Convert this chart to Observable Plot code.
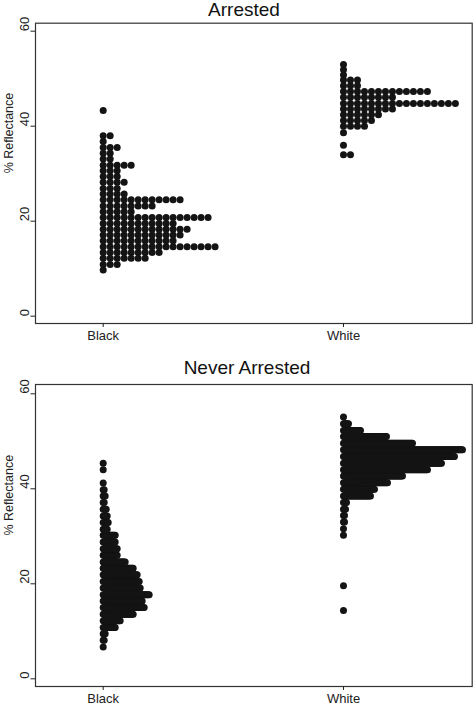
<!DOCTYPE html>
<html>
<head>
<meta charset="utf-8">
<script src="https://cdn.jsdelivr.net/npm/d3@7"></script>
<script src="https://cdn.jsdelivr.net/npm/@observablehq/plot@0.6"></script>
<style>
  html, body { margin: 0; padding: 0; background: #fff; }
  #wrap { position: relative; width: 474px; height: 706px; overflow: hidden; font-family: 'Liberation Sans', Arial, sans-serif; }
  .title { position: absolute; z-index: 2; font-size: 19px; line-height: 19px; color: #111; text-align: center; white-space: nowrap; }
  .panel { position: absolute; left: 0; z-index: 1; }
</style>
</head>
<body>
<div id="wrap">
  <div class="panel" id="p1" style="top:0;"></div>
  <div class="panel" id="p2" style="top:350px;"></div>
  <div class="title" id="t1" style="left:0; width:488px; top:0px;">Arrested</div>
  <div class="title" id="t2" style="left:0; width:494px; top:358px;">Never Arrested</div>
</div>
<script>
// ---- categories and axis ticks ----
const groups = ["Black", "White"];
const yTicks = [0, 20, 40, 60];
const yLabel = "% Reflectance";

// ---- Arrested: row values (% reflectance) and number of dots per row ----
const arrBlackY = [9.7, 10.9, 12.2, 13.4, 14.6, 15.9, 17.1, 18.3, 19.5, 20.8, 22.0, 23.2, 24.5, 25.7, 26.9, 28.2, 29.4, 30.6, 31.8, 33.1, 34.3, 35.5, 36.8, 38.0, 43.3];
const arrBlackN = [1, 3, 7, 9, 17, 11, 12, 13, 11, 16, 5, 8, 12, 4, 3, 4, 3, 3, 5, 2, 2, 3, 1, 2, 1];
const arrWhiteY = [34.0, 36.0, 38.6, 40.0, 41.2, 42.4, 43.6, 44.8, 46.1, 47.3, 48.5, 49.7, 50.8, 51.9, 53.0];
const arrWhiteN = [2, 1, 1, 4, 5, 6, 8, 17, 8, 13, 3, 3, 1, 1, 1];

// ---- Never arrested ----
const nevBlackY = [6.7, 8.1, 9.5, 10.8, 12.2, 13.6, 15.0, 16.4, 17.7, 19.1, 20.5, 21.9, 23.3, 24.6, 26.0, 27.4, 28.8, 30.2, 31.5, 32.9, 34.3, 35.7, 37.1, 38.5, 39.8, 41.2, 44.0, 45.4];
const nevBlackN = [1, 2, 3, 13, 18, 31, 42, 40, 47, 38, 37, 35, 31, 23, 15, 15, 13, 13, 5, 6, 5, 4, 2, 3, 2, 1, 1, 1];
const nevWhiteY = [14.4, 19.6, 30.2, 31.6, 33.0, 34.4, 35.7, 37.1, 38.5, 39.9, 41.3, 42.7, 44.0, 45.4, 46.8, 48.2, 49.6, 51.0, 52.3, 53.7, 55.1];
const nevWhiteN = [1, 1, 1, 1, 2, 2, 3, 4, 28, 32, 45, 60, 85, 99, 112, 120, 70, 44, 18, 6, 1];

// horizontal spacing between stacked dots (x units; a category is 1 unit wide)
const arrStep = 0.0291;
const nevStep = 0.00416;

function expand(cat, ys, ns, step) {
  const out = [];
  ys.forEach((y, i) => {
    for (let j = 0; j < ns[i]; j++) out.push({x: cat + j * step, y});
  });
  return out;
}

function panel(data, yDomain, marginTop, marginBottom, height) {
  return Plot.plot({
    width: 474,
    height,
    marginTop,
    marginBottom,
    marginLeft: 35,
    marginRight: 2.3,
    style: {fontFamily: "'Liberation Sans', Arial, sans-serif", fontSize: "13px", color: "#222", background: "transparent"},
    x: {type: "linear", domain: [0.7183, 2.5356], axis: null},
    y: {domain: yDomain, axis: null},
    marks: [
      Plot.frame({stroke: "#333", strokeWidth: 1.2}),
      Plot.axisX({ticks: [1, 2], tickFormat: d => groups[d - 1], tickSize: 4, tickPadding: 3, label: null, fontSize: 13}),
      Plot.axisY({ticks: yTicks, tickSize: 4.5, tickFormat: () => "", label: null}),
      Plot.text(yTicks, {y: d => d, text: d => String(d), frameAnchor: "left", dx: -10.5, rotate: -90, fontSize: 13, fill: "#222"}),
      Plot.text([yLabel], {text: d => d, frameAnchor: "left", dx: -26.5, rotate: -90, fontSize: 12.5, fill: "#222"}),
      Plot.dot(data, {x: "x", y: "y", r: 3.5, fill: "#141414", stroke: "none"})
    ]
  });
}

const arrData = [...expand(1, arrBlackY, arrBlackN, arrStep), ...expand(2, arrWhiteY, arrWhiteN, arrStep)];
const nevData = [...expand(1, nevBlackY, nevBlackN, nevStep), ...expand(2, nevWhiteY, nevWhiteN, nevStep)];

document.getElementById("p1").append(panel(arrData, [-1.54, 61.68], 22.7, 27, 350));
document.getElementById("p2").append(panel(nevData, [-1.62, 61.96], 34, 20, 356));
</script>
</body>
</html>
